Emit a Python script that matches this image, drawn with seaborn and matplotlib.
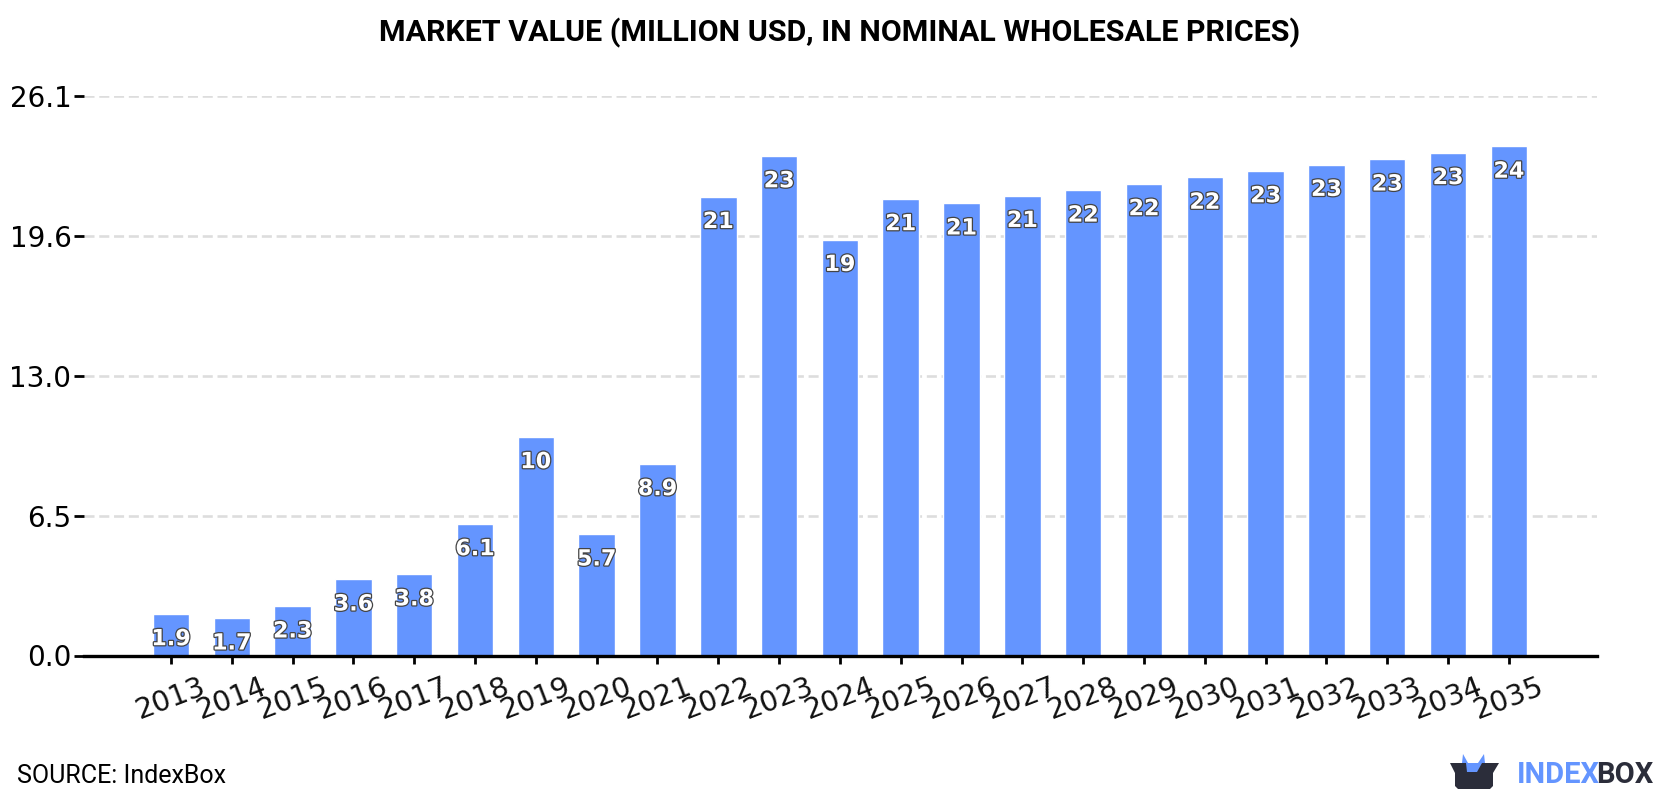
import matplotlib
matplotlib.use("Agg")
import matplotlib.pyplot as plt
import matplotlib.patheffects as pe
from matplotlib.patches import Polygon
import pandas as pd
import seaborn as sns

years = [str(y) for y in range(2013, 2036)]
market_value = [1.94, 1.74, 2.3, 3.56, 3.8, 6.14, 10.2, 5.66, 8.94, 21.4, 23.3, 19.4, 21.3,
                21.1, 21.45, 21.7, 22.0, 22.3, 22.6, 22.9, 23.15, 23.45, 23.75]
y_ticks = [0.0, 6.525, 13.05, 19.575, 26.1]
y_tick_labels = ["0.0", "6.5", "13.0", "19.6", "26.1"]
title = "MARKET VALUE (MILLION USD, IN NOMINAL WHOLESALE PRICES)"
source = "SOURCE: IndexBox"

BLUE = "#6495ff"
DARK = "#2b2d3a"

sns.set_theme(style="white")
plt.rcParams["font.family"] = ["DejaVu Sans"]

fig = plt.figure(figsize=(16.8, 8), dpi=100, facecolor="white")
W, H = 1680, 800
ax = fig.add_axes([84 / W, 1 - 655.5 / H, (1597 - 84) / W, (655.5 - 96) / H])

df = pd.DataFrame({"year": years, "value": market_value})
sns.barplot(data=df, x="year", y="value", color=BLUE, saturation=1, width=0.6, ax=ax, zorder=3)

ax.set_xlim(-1.43, 23.45)
ax.set_ylim(0, 26.1)
ax.set_xlabel("")
ax.set_ylabel("")
ax.set_yticks(y_ticks, y_tick_labels)
ax.tick_params(axis="y", labelsize=20, length=7, width=2, color="black", pad=2, labelcolor="black", left=True)
ax.tick_params(axis="x", labelsize=20.5, length=6, width=2, color="black", pad=6, labelcolor="#111111", bottom=True)
plt.setp(ax.get_xticklabels(), rotation=21, ha="center")

ax.yaxis.grid(True, color="#dddddd", linestyle=(0, (3.8, 1.8)), linewidth=1.9, zorder=0)
ax.set_axisbelow(True)
for side in ("top", "right", "left"):
    ax.spines[side].set_visible(False)
ax.spines["bottom"].set_linewidth(2.4)
ax.spines["bottom"].set_color("black")
ax.spines["bottom"].set_zorder(5)

# Value labels sit a fixed distance under each bar top
for i, v in enumerate(market_value):
    text = f"{v:.1f}" if v < 10 else f"{v:.0f}"
    ax.annotate(text, xy=(i, v), xytext=(0, -18.2), textcoords="offset points",
                ha="center", va="center", fontsize=16, fontweight="bold", color="white",
                zorder=6, path_effects=[pe.withStroke(linewidth=1.8, foreground="#444444")])

fig.text(0.5, 1 - 32.5 / H, title, ha="center", va="center", fontsize=21.9,
         fontweight="bold", family="Roboto", color="black")
fig.text(17 / W, 1 - 776 / H, source, ha="left", va="center", fontsize=18,
         family="Roboto", color="black")

# IndexBox logo: a dark open box with a blue crown behind it
def fig_poly(pts, color, z=10):
    xy = [(x / W, 1 - y / H) for x, y in pts]
    fig.add_artist(Polygon(xy, closed=True, transform=fig.transFigure, facecolor=color,
                           edgecolor="none", zorder=z))

fig_poly([(1461, 772), (1463, 754), (1468, 763), (1478, 763), (1484, 754), (1486, 772)], BLUE, 10)
fig_poly([(1450, 763), (1466, 763), (1467, 772), (1477, 772), (1482, 763), (1499, 763),
          (1493, 773), (1493, 786), (1490, 789), (1458, 789), (1455, 786), (1455, 773)], DARK, 11)
fig.text(1517 / W, 1 - 775 / H, "INDEX", ha="left", va="center", fontsize=21,
         fontweight="bold", family="Roboto", color=BLUE)
fig.text(1596 / W, 1 - 775 / H, "BOX", ha="left", va="center", fontsize=21,
         fontweight="bold", family="Roboto", color=DARK)

fig.savefig("out.png", dpi=100)
